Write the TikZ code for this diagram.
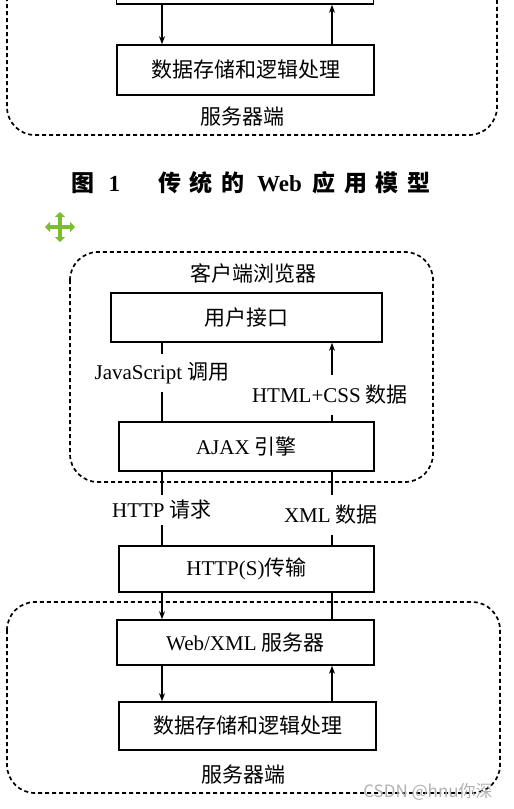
\documentclass[tikz,border=0pt]{standalone}
\usepackage{fontspec}
\setmainfont{Liberation Serif}
\newfontfamily\cjk{Noto Sans CJK SC}
\usetikzlibrary{arrows.meta}

\definecolor{icongreen}{RGB}{122,190,48}
\newcommand{\capgap}{\hspace{8.5pt}}

\tikzset{
  blk/.style={draw, line width=1.6pt, minimum width=257pt, minimum height=48pt, inner sep=0pt},
  lbl/.style={inner xsep=2pt},
  region/.style={draw, line width=1.7pt, dash pattern=on 4pt off 3pt, rounded corners=28pt},
  flow/.style={line width=1.3pt},
  moveicon/.style={line width=3.5pt, icongreen, {Triangle[width=10pt,length=5pt]}-{Triangle[width=10pt,length=5pt]}},
}

\begin{document}
\begin{tikzpicture}[>={Stealth[length=8pt,width=6pt]}, x=1pt, y=-1pt, font=\fontsize{21}{24}\selectfont]
  \useasboundingbox (0,0) rectangle (514,809);
  \clip (0,0) rectangle (514,809);
  % the two channels, left going down, right going up
  \coordinate (lx) at (162,0);
  \coordinate (rx) at (332,0);

  % traditional model (cut off at the top)
  \draw[region] (7,-80) rectangle (497,135);
  \node[blk] (oldweb) at (245,-20) {};
  \node[blk, minimum height=50pt] (olddb) at (245.5,70) {\cjk 数据存储和逻辑处理};
  \node (oldsrv) at (242,117) {\cjk 服务器端};
  \draw[flow,->] (oldweb.south -| lx) -- (olddb.north -| lx);
  \draw[flow,->] (olddb.north -| rx) -- (oldweb.south -| rx);

  % caption
  \node[font=\fontsize{23}{26}\selectfont\bfseries] (cap) at (251,183)
    {{\cjk 图}\hspace{14pt}1\hspace{38pt}{\cjk 传\capgap 统\capgap 的}\hspace{13pt}Web\hspace{11pt}{\cjk 应\capgap 用\capgap 模\capgap 型}};

  % move handle
  \draw[moveicon] (45,227) -- (75,227);
  \draw[moveicon] (60,212) -- (60,242);

  % client browser
  \draw[region] (70,252) rectangle (433,482);
  \node (cli) at (253,273) {\cjk 客户端浏览器};
  \node[blk, minimum width=271pt, minimum height=49pt] (ui) at (246.5,317.5) {\cjk 用户接口};
  \node[blk, minimum width=255pt, minimum height=49pt] (ajax) at (246.5,446.5) {AJAX {\cjk 引擎}};

  % transport and server
  \node[blk, minimum width=255pt, minimum height=46pt] (http) at (246.5,569) {HTTP(S){\cjk 传输}};
  \draw[region] (7,602) rectangle (500,793);
  \node[blk, minimum height=45pt] (web) at (245.5,642.5) {Web/XML {\cjk 服务器}};
  \node[blk] (db) at (247.5,726) {\cjk 数据存储和逻辑处理};
  \node (srv) at (243,775) {\cjk 服务器端};

  % labels on the channels
  \node[lbl, inner ysep=8pt] (js) at (162,373) {JavaScript {\cjk 调用}};
  \node[lbl, inner ysep=10pt] (css) at (330,395) {HTML+CSS {\cjk 数据}};
  \node[lbl, inner ysep=5pt] (req) at (162,510) {HTTP {\cjk 请求}};
  \node[lbl, inner ysep=10pt] (xml) at (331,515) {XML {\cjk 数据}};

  % left channel
  \draw[flow] (ui.south -| lx) -- (js.north -| lx);
  \draw[flow] (js.south -| lx) -- (ajax.north -| lx);
  \draw[flow] (ajax.south -| lx) -- (req.north -| lx);
  \draw[flow] (req.south -| lx) -- (http.north -| lx);
  \draw[flow,->] (http.south -| lx) -- (web.north -| lx);
  \draw[flow,->] (web.south -| lx) -- (db.north -| lx);
  % right channel
  \draw[flow,->] (db.north -| rx) -- (web.south -| rx);
  \draw[flow] (web.north -| rx) -- (http.south -| rx);
  \draw[flow] (http.north -| rx) -- (xml.south -| rx);
  \draw[flow] (xml.north -| rx) -- (ajax.south -| rx);
  \draw[flow] (ajax.north -| rx) -- (css.south -| rx);
  \draw[flow,->] (css.north -| rx) -- (ui.south -| rx);

  % watermark
  \node[text=gray!60, font=\cjk\fontsize{17}{20}\selectfont] (mark) at (428,792) {CSDN @hnu你深};
\end{tikzpicture}
\end{document}
